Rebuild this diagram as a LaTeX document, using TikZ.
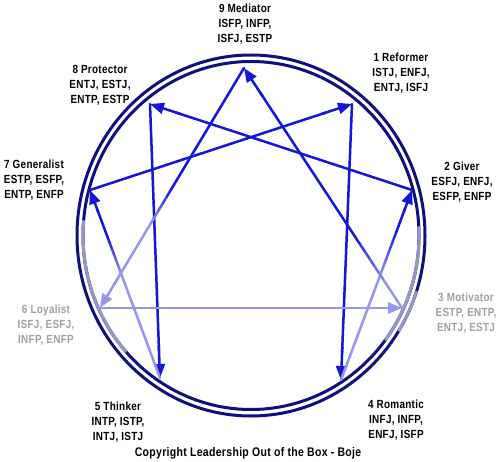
\documentclass[tikz,border=0pt]{standalone}
\usepackage{fontspec}
\setmainfont{Liberation Sans}[FakeStretch=0.84,LetterSpace=2.5]
\usetikzlibrary{calc,arrows.meta}
\definecolor{navy}{RGB}{16,16,124}
\definecolor{ablue}{RGB}{22,22,218}
\definecolor{lblue}{RGB}{150,150,235}
\definecolor{lgray}{RGB}{160,160,160}
\definecolor{lcirc}{RGB}{150,150,200}
\tikzset{
  conn/.style={line width=2.5pt, line cap=round},
  tipst/.style={line width=2.5pt, -{Triangle[length=14pt,width=11pt]}},
  circ/.style={line width=3pt, draw=navy},
  lcircst/.style={line width=3pt, draw=lcirc},
  lab/.style={font=\fontsize{11.8}{15}\selectfont\bfseries, align=center, anchor=north, inner sep=0pt},
  glab/.style={lab, text=lgray},
}
% #1 from, #2 to, #3 start colour, #4 end colour, #5 #6 transition interval
\newcommand{\gline}[6]{%
  \foreach \i in {0,...,29} {
    \pgfmathsetmacro\ta{0.9*\i/30}
    \pgfmathsetmacro\tb{0.9*(\i+1)/30}
    \pgfmathsetmacro\tm{0.9*(\i+0.5)/30}
    \pgfmathtruncatemacro\p{min(100,max(0,(\tm-#5)/(#6-#5)*100))}
    \draw[conn, draw=#4!\p!#3] ($(#1)!\ta!(#2)$) -- ($(#1)!\tb!(#2)$);
  }
  \draw[tipst, draw=#4, fill=#4] ($(#1)!0.88!(#2)$) -- (#2);
}
\begin{document}
\begin{tikzpicture}[x=1pt,y=-1pt]
\useasboundingbox[fill=white] (0,0) rectangle (501,462);
\coordinate (c) at (251,235.5);
% circles
\draw[circ] (c) ellipse [x radius=174, y radius=180.5];
\draw[circ] (c) ellipse [x radius=168, y radius=174];
\draw[lcircst] ([shift={(138:168 and 174)}]c) arc [start angle=138, end angle=185, x radius=168, y radius=174];
\draw[lcircst] ([shift={(-3:168 and 174)}]c) arc [start angle=-3, end angle=37, x radius=168, y radius=174];
\draw[lcircst] ([shift={(18:174 and 180.5)}]c) arc [start angle=18, end angle=32, x radius=174, y radius=180.5];
% enneagram points
\coordinate (p9) at (244,68);
\coordinate (p1) at (352,104);
\coordinate (p2) at (412,190);
\coordinate (p3) at (402,308);
\coordinate (p4) at (341,380);
\coordinate (p5) at (160,378);
\coordinate (p6) at (100,308);
\coordinate (p7) at (90,190);
\coordinate (p8) at (150,104);
% hexad
\gline{p1}{p4}{ablue}{ablue}{0}{1}
\gline{p4}{p2}{lblue}{ablue}{0.55}{0.8}
\gline{p2}{p8}{ablue}{ablue}{0}{1}
\gline{p8}{p5}{ablue}{ablue}{0}{1}
\gline{p5}{p7}{lblue}{ablue}{0.55}{0.75}
\gline{p7}{p1}{ablue}{ablue}{0}{1}
% triangle
\gline{p3}{p9}{lblue}{ablue}{0.1}{0.3}
\gline{p9}{p6}{ablue}{lblue}{0.5}{0.65}
\gline{p6}{p3}{lblue}{lblue}{0}{1}
% labels
\node[lab] (t9) at (245,4) {9 Mediator\\ISFP, INFP,\\ISFJ, ESTP};
\node[lab] (t1) at (401,53) {1 Reformer\\ISTJ, ENFJ,\\ENTJ, ISFJ};
\node[lab] (t2) at (462,162) {2 Giver\\ESFJ, ENFJ,\\ESFP, ENFP};
\node[glab] (t3) at (466,293) {3 Motivator\\ESTP, ENTP,\\ENTJ, ESTJ};
\node[lab] (t4) at (396,400) {4 Romantic\\INFJ, INFP,\\ENFJ, ISFP};
\node[lab] (t5) at (118,402) {5 Thinker\\INTP, ISTP,\\INTJ, ISTJ};
\node[glab] (t6) at (46,305) {6 Loyalist\\ISFJ, ESFJ,\\INFP, ENFP};
\node[lab] (t7) at (34,160) {7 Generalist\\ESTP, ESFP,\\ENTP, ENFP};
\node[lab] (t8) at (100,65) {8 Protector\\ENTJ, ESTJ,\\ENTP, ESTP};
\node[lab, font=\fontsize{12.5}{15}\selectfont\bfseries] (copy) at (248,447) {Copyright Leadership Out of the Box - Boje};
\end{tikzpicture}
\end{document}
